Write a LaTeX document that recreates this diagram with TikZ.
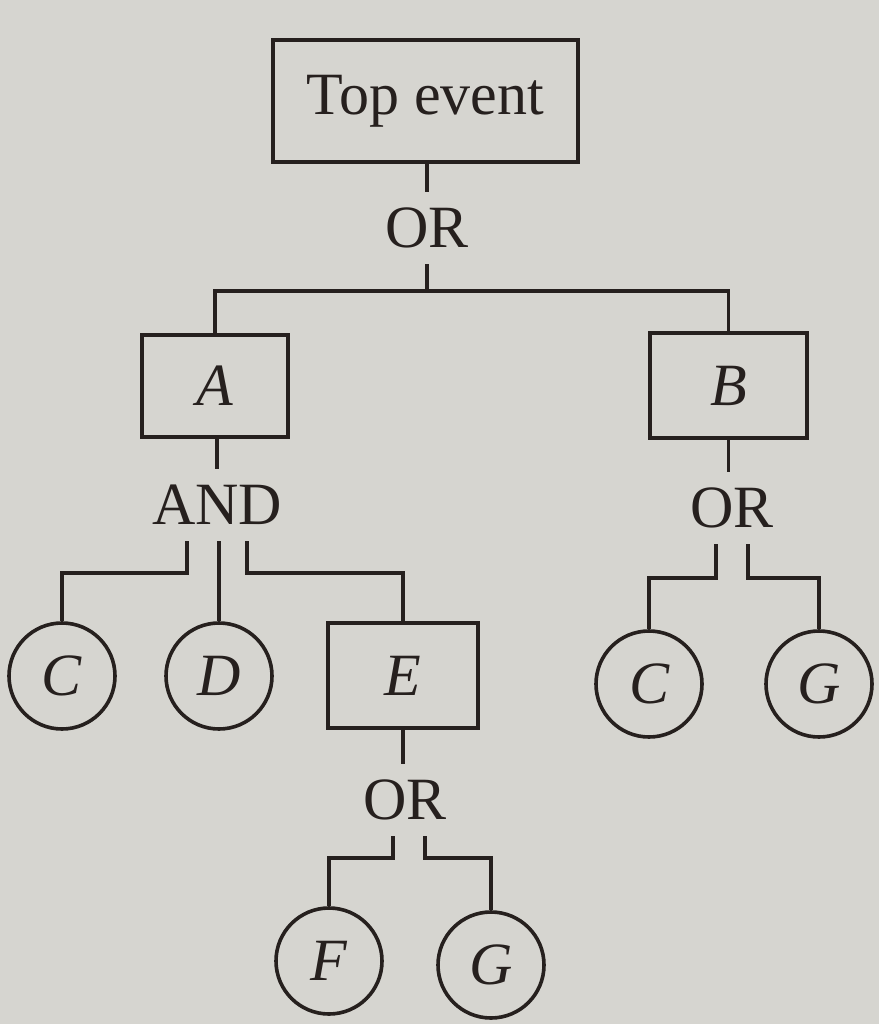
\documentclass[tikz,border=0pt]{standalone}
\usepackage{fontspec}
\setmainfont{Liberation Serif}
\definecolor{paper}{RGB}{214,213,208}
\definecolor{ink}{RGB}{38,32,30}
\begin{document}
\begin{tikzpicture}[x=1pt,y=-1pt,
  wire/.style={line width=3.6pt, draw=ink},
  evbox/.style={draw=ink, line width=3.6pt, rectangle, inner sep=0pt, font=\fontsize{60}{62}\selectfont\itshape, text=ink},
  basic/.style={draw=ink, line width=3.6pt, circle, inner sep=0pt, minimum size=106pt, font=\fontsize{60}{62}\selectfont\itshape, text=ink},
  gate/.style={inner sep=0pt, minimum height=72pt, font=\fontsize{60}{62}\selectfont, text=ink}
]
\fill[paper] (0,0) rectangle (879,1024);
\useasboundingbox (0,0) rectangle (879,1024);

% nodes
\node[evbox, minimum width=305pt, minimum height=122pt, font=\fontsize{60}{62}\selectfont] (top) at (425.5,101) {Top event};
\node[gate] (or1) at (427,228) {OR};
\coordinate (bus) at (427,293);

\node[evbox, minimum width=146pt, minimum height=102pt] (A) at (215,386) {A};
\node[evbox, minimum width=157pt, minimum height=105pt] (B) at (728.5,385.5) {B};

\node[gate] (and) at (217,505) {AND};
\node[gate] (orB) at (732,508) {OR};

\node[basic] (C1) at (62,676) {C};
\node[basic] (D) at (219,676) {D};
\node[evbox, minimum width=150pt, minimum height=105pt] (E) at (403,675.5) {E};
\node[basic] (C2) at (649,684) {C};
\node[basic] (G1) at (819,684) {G};

\node[gate] (orE) at (405,800) {OR};
\node[basic] (F) at (329,961) {F};
\node[basic] (G2) at (491,965) {G};

% connectors
\draw[wire] (top.south -| or1) -- (or1.north);
\draw[wire] (or1.south) -- (bus);
\draw[wire] (A.north) -- ++(0,-42) -| (B.north);

\draw[wire] (A.south -| and) -- (and.north);
\draw[wire] ([xshift=-30pt]and.south) -- ++(0,32) -| (C1.north);
\draw[wire] (and.south -| D) -- (D.north);
\draw[wire] ([xshift=30pt]and.south) -- ++(0,32) -| (E.north);

\draw[wire] (B.south) -- (B.south |- orB.north);
\draw[wire] ([xshift=-16pt]orB.south) -- ++(0,34) -| (C2.north);
\draw[wire] ([xshift=16pt]orB.south) -- ++(0,34) -| (G1.north);

\draw[wire] (E.south) -- (E.south |- orE.north);
\draw[wire] ([xshift=-12pt]orE.south) -- ++(0,22) -| (F.north);
\draw[wire] ([xshift=20pt]orE.south) -- ++(0,22) -| (G2.north);
\end{tikzpicture}
\end{document}
